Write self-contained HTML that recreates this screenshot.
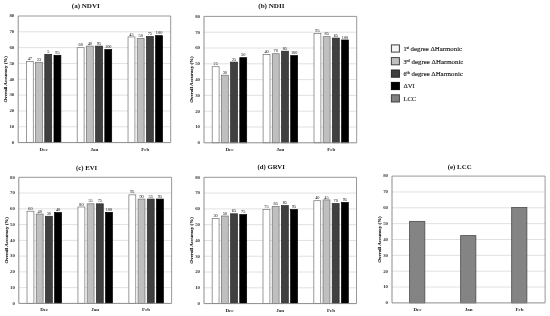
<!DOCTYPE html>
<html><head><meta charset="utf-8"><title>Overall accuracy charts</title>
<style>
html,body{margin:0;padding:0;background:#fff;}
body{width:550px;height:316px;overflow:hidden;}
svg{display:block;}
text{font-family:"Liberation Serif", serif;fill:#1a1a1a;}
.tk{font-size:4.8px;font-weight:bold;text-anchor:end;fill:#333;}
.tt{font-size:6.6px;font-weight:bold;text-anchor:middle;fill:#111;}
.yt{font-size:4.9px;font-weight:bold;text-anchor:middle;fill:#1a1a1a;stroke:#1a1a1a;stroke-width:0.12px;}
.cat{font-size:5.0px;font-weight:bold;text-anchor:middle;fill:#222;}
.vl{font-size:5px;text-anchor:middle;fill:#000;}
.lg{font-size:6.2px;fill:#1a1a1a;stroke:#1a1a1a;stroke-width:0.12px;}
.sup{font-size:3.8px;fill:#1a1a1a;stroke:#1a1a1a;stroke-width:0.15px;}
</style></head>
<body>
<svg width="550" height="316" viewBox="0 0 550 316">
<rect x="0" y="0" width="550" height="316" fill="#fff"/>
<line x1="18.2" y1="126.77" x2="170.7" y2="126.77" stroke="#d9d9d9" stroke-width="0.8"/>
<line x1="18.2" y1="110.95" x2="170.7" y2="110.95" stroke="#d9d9d9" stroke-width="0.8"/>
<line x1="18.2" y1="95.12" x2="170.7" y2="95.12" stroke="#d9d9d9" stroke-width="0.8"/>
<line x1="18.2" y1="79.3" x2="170.7" y2="79.3" stroke="#d9d9d9" stroke-width="0.8"/>
<line x1="18.2" y1="63.47" x2="170.7" y2="63.47" stroke="#d9d9d9" stroke-width="0.8"/>
<line x1="18.2" y1="47.65" x2="170.7" y2="47.65" stroke="#d9d9d9" stroke-width="0.8"/>
<line x1="18.2" y1="31.82" x2="170.7" y2="31.82" stroke="#d9d9d9" stroke-width="0.8"/>
<polyline points="18.2,16 170.7,16 170.7,142.6" fill="none" stroke="#8c8c8c" stroke-width="0.9"/>
<text x="14.2" y="143.9" class="tk">0</text>
<text x="14.2" y="128.07" class="tk">10</text>
<text x="14.2" y="112.25" class="tk">20</text>
<text x="14.2" y="96.42" class="tk">30</text>
<text x="14.2" y="80.6" class="tk">40</text>
<text x="14.2" y="64.77" class="tk">50</text>
<text x="14.2" y="48.95" class="tk">60</text>
<text x="14.2" y="33.12" class="tk">70</text>
<text x="14.2" y="17.3" class="tk">80</text>
<text x="85.8" y="8.2" class="tt" textLength="28.0" lengthAdjust="spacingAndGlyphs">(a) NDVI</text>
<text transform="translate(7.3,79.3) rotate(-90)" x="0" y="0" class="yt" textLength="46.5" lengthAdjust="spacingAndGlyphs">Overall Accuracy (%)</text>
<text x="43.62" y="150.6" class="cat">Dec</text>
<text x="94.45" y="150.6" class="cat">Jan</text>
<text x="145.28" y="150.6" class="cat">Feb</text>
<rect x="26.37" y="61.45" width="6.9" height="81.15" fill="#ffffff" stroke="#707070" stroke-width="0.7"/>
<text x="29.82" y="60.1" class="vl" textLength="4.3" lengthAdjust="spacingAndGlyphs">47</text>
<rect x="35.57" y="62.56" width="6.9" height="80.04" fill="#bfbfbf" stroke="#707070" stroke-width="0.7"/>
<text x="39.02" y="61.21" class="vl" textLength="4.3" lengthAdjust="spacingAndGlyphs">33</text>
<rect x="44.77" y="54.33" width="6.9" height="88.27" fill="#404040" stroke="#262626" stroke-width="0.7"/>
<text x="48.22" y="52.98" class="vl" textLength="2.15" lengthAdjust="spacingAndGlyphs">5</text>
<rect x="53.97" y="55.28" width="6.9" height="87.32" fill="#000000" stroke="#000000" stroke-width="0.7"/>
<text x="57.42" y="53.93" class="vl" textLength="4.3" lengthAdjust="spacingAndGlyphs">95</text>
<rect x="77.2" y="47.68" width="6.9" height="94.92" fill="#ffffff" stroke="#707070" stroke-width="0.7"/>
<text x="80.65" y="46.33" class="vl" textLength="4.3" lengthAdjust="spacingAndGlyphs">60</text>
<rect x="86.4" y="46.1" width="6.9" height="96.5" fill="#bfbfbf" stroke="#707070" stroke-width="0.7"/>
<text x="89.85" y="44.75" class="vl" textLength="4.3" lengthAdjust="spacingAndGlyphs">40</text>
<rect x="95.6" y="46.1" width="6.9" height="96.5" fill="#404040" stroke="#262626" stroke-width="0.7"/>
<text x="99.05" y="44.75" class="vl" textLength="4.3" lengthAdjust="spacingAndGlyphs">95</text>
<rect x="104.8" y="49.58" width="6.9" height="93.02" fill="#000000" stroke="#000000" stroke-width="0.7"/>
<text x="108.25" y="48.23" class="vl" textLength="6.45" lengthAdjust="spacingAndGlyphs">100</text>
<rect x="128.03" y="36.92" width="6.9" height="105.68" fill="#ffffff" stroke="#707070" stroke-width="0.7"/>
<text x="131.48" y="35.57" class="vl" textLength="4.3" lengthAdjust="spacingAndGlyphs">45</text>
<rect x="137.23" y="38.5" width="6.9" height="104.1" fill="#bfbfbf" stroke="#707070" stroke-width="0.7"/>
<text x="140.68" y="37.15" class="vl" textLength="4.3" lengthAdjust="spacingAndGlyphs">50</text>
<rect x="146.43" y="36.45" width="6.9" height="106.15" fill="#404040" stroke="#262626" stroke-width="0.7"/>
<text x="149.88" y="35.1" class="vl" textLength="4.3" lengthAdjust="spacingAndGlyphs">75</text>
<rect x="155.63" y="35.66" width="6.9" height="106.94" fill="#000000" stroke="#000000" stroke-width="0.7"/>
<text x="159.08" y="34.31" class="vl" textLength="6.45" lengthAdjust="spacingAndGlyphs">100</text>
<polyline points="18.2,16 18.2,142.6 170.7,142.6" fill="none" stroke="#8c8c8c" stroke-width="1"/>
<line x1="204" y1="127" x2="356.7" y2="127" stroke="#d9d9d9" stroke-width="0.8"/>
<line x1="204" y1="111.2" x2="356.7" y2="111.2" stroke="#d9d9d9" stroke-width="0.8"/>
<line x1="204" y1="95.4" x2="356.7" y2="95.4" stroke="#d9d9d9" stroke-width="0.8"/>
<line x1="204" y1="79.6" x2="356.7" y2="79.6" stroke="#d9d9d9" stroke-width="0.8"/>
<line x1="204" y1="63.8" x2="356.7" y2="63.8" stroke="#d9d9d9" stroke-width="0.8"/>
<line x1="204" y1="48" x2="356.7" y2="48" stroke="#d9d9d9" stroke-width="0.8"/>
<line x1="204" y1="32.2" x2="356.7" y2="32.2" stroke="#d9d9d9" stroke-width="0.8"/>
<polyline points="204,16.4 356.7,16.4 356.7,142.8" fill="none" stroke="#8c8c8c" stroke-width="0.9"/>
<text x="200" y="144.1" class="tk">0</text>
<text x="200" y="128.3" class="tk">10</text>
<text x="200" y="112.5" class="tk">20</text>
<text x="200" y="96.7" class="tk">30</text>
<text x="200" y="80.9" class="tk">40</text>
<text x="200" y="65.1" class="tk">50</text>
<text x="200" y="49.3" class="tk">60</text>
<text x="200" y="33.5" class="tk">70</text>
<text x="200" y="17.7" class="tk">80</text>
<text x="271.4" y="8.1" class="tt" textLength="26.2" lengthAdjust="spacingAndGlyphs">(b) NDII</text>
<text transform="translate(193.1,79.6) rotate(-90)" x="0" y="0" class="yt" textLength="46.5" lengthAdjust="spacingAndGlyphs">Overall Accuracy (%)</text>
<text x="229.45" y="150.8" class="cat">Dec</text>
<text x="280.35" y="150.8" class="cat">Jan</text>
<text x="331.25" y="150.8" class="cat">Feb</text>
<rect x="212.2" y="66.68" width="6.9" height="76.12" fill="#ffffff" stroke="#707070" stroke-width="0.7"/>
<text x="215.65" y="65.33" class="vl" textLength="4.3" lengthAdjust="spacingAndGlyphs">25</text>
<rect x="221.4" y="75.21" width="6.9" height="67.59" fill="#bfbfbf" stroke="#707070" stroke-width="0.7"/>
<text x="224.85" y="73.86" class="vl" textLength="4.3" lengthAdjust="spacingAndGlyphs">30</text>
<rect x="230.6" y="62.1" width="6.9" height="80.7" fill="#404040" stroke="#262626" stroke-width="0.7"/>
<text x="234.05" y="60.75" class="vl" textLength="4.3" lengthAdjust="spacingAndGlyphs">25</text>
<rect x="239.8" y="57.67" width="6.9" height="85.13" fill="#000000" stroke="#000000" stroke-width="0.7"/>
<text x="243.25" y="56.32" class="vl" textLength="4.3" lengthAdjust="spacingAndGlyphs">50</text>
<rect x="263.1" y="54.35" width="6.9" height="88.45" fill="#ffffff" stroke="#707070" stroke-width="0.7"/>
<text x="266.55" y="53" class="vl" textLength="4.3" lengthAdjust="spacingAndGlyphs">40</text>
<rect x="272.3" y="53.72" width="6.9" height="89.08" fill="#bfbfbf" stroke="#707070" stroke-width="0.7"/>
<text x="275.75" y="52.37" class="vl" textLength="4.3" lengthAdjust="spacingAndGlyphs">70</text>
<rect x="281.5" y="51.19" width="6.9" height="91.61" fill="#404040" stroke="#262626" stroke-width="0.7"/>
<text x="284.95" y="49.84" class="vl" textLength="4.3" lengthAdjust="spacingAndGlyphs">85</text>
<rect x="290.7" y="55.62" width="6.9" height="87.18" fill="#000000" stroke="#000000" stroke-width="0.7"/>
<text x="294.15" y="54.27" class="vl" textLength="6.45" lengthAdjust="spacingAndGlyphs">100</text>
<rect x="314" y="33.5" width="6.9" height="109.3" fill="#ffffff" stroke="#707070" stroke-width="0.7"/>
<text x="317.45" y="32.15" class="vl" textLength="4.3" lengthAdjust="spacingAndGlyphs">95</text>
<rect x="323.2" y="36.66" width="6.9" height="106.14" fill="#bfbfbf" stroke="#707070" stroke-width="0.7"/>
<text x="326.65" y="35.31" class="vl" textLength="4.3" lengthAdjust="spacingAndGlyphs">85</text>
<rect x="332.4" y="38.08" width="6.9" height="104.72" fill="#404040" stroke="#262626" stroke-width="0.7"/>
<text x="335.85" y="36.73" class="vl" textLength="4.3" lengthAdjust="spacingAndGlyphs">65</text>
<rect x="341.6" y="39.98" width="6.9" height="102.82" fill="#000000" stroke="#000000" stroke-width="0.7"/>
<text x="345.05" y="38.63" class="vl" textLength="6.45" lengthAdjust="spacingAndGlyphs">100</text>
<polyline points="204,16.4 204,142.8 356.7,142.8" fill="none" stroke="#8c8c8c" stroke-width="1"/>
<line x1="18.8" y1="287.64" x2="171.6" y2="287.64" stroke="#d9d9d9" stroke-width="0.8"/>
<line x1="18.8" y1="271.88" x2="171.6" y2="271.88" stroke="#d9d9d9" stroke-width="0.8"/>
<line x1="18.8" y1="256.11" x2="171.6" y2="256.11" stroke="#d9d9d9" stroke-width="0.8"/>
<line x1="18.8" y1="240.35" x2="171.6" y2="240.35" stroke="#d9d9d9" stroke-width="0.8"/>
<line x1="18.8" y1="224.59" x2="171.6" y2="224.59" stroke="#d9d9d9" stroke-width="0.8"/>
<line x1="18.8" y1="208.82" x2="171.6" y2="208.82" stroke="#d9d9d9" stroke-width="0.8"/>
<line x1="18.8" y1="193.06" x2="171.6" y2="193.06" stroke="#d9d9d9" stroke-width="0.8"/>
<polyline points="18.8,177.3 171.6,177.3 171.6,303.4" fill="none" stroke="#8c8c8c" stroke-width="0.9"/>
<text x="14.8" y="304.7" class="tk">0</text>
<text x="14.8" y="288.94" class="tk">10</text>
<text x="14.8" y="273.18" class="tk">20</text>
<text x="14.8" y="257.41" class="tk">30</text>
<text x="14.8" y="241.65" class="tk">40</text>
<text x="14.8" y="225.89" class="tk">50</text>
<text x="14.8" y="210.12" class="tk">60</text>
<text x="14.8" y="194.36" class="tk">70</text>
<text x="14.8" y="178.6" class="tk">80</text>
<text x="86.6" y="169.8" class="tt" textLength="21.0" lengthAdjust="spacingAndGlyphs">(c) EVI</text>
<text transform="translate(7.9,240.35) rotate(-90)" x="0" y="0" class="yt" textLength="46.5" lengthAdjust="spacingAndGlyphs">Overall Accuracy (%)</text>
<text x="44.27" y="311.4" class="cat">Dec</text>
<text x="95.2" y="311.4" class="cat">Jan</text>
<text x="146.13" y="311.4" class="cat">Feb</text>
<rect x="27.02" y="211.22" width="6.9" height="92.18" fill="#ffffff" stroke="#707070" stroke-width="0.7"/>
<text x="30.47" y="209.87" class="vl" textLength="4.3" lengthAdjust="spacingAndGlyphs">60</text>
<rect x="36.22" y="214.06" width="6.9" height="89.34" fill="#bfbfbf" stroke="#707070" stroke-width="0.7"/>
<text x="39.67" y="212.71" class="vl" textLength="4.3" lengthAdjust="spacingAndGlyphs">40</text>
<rect x="45.42" y="216.27" width="6.9" height="87.13" fill="#404040" stroke="#262626" stroke-width="0.7"/>
<text x="48.87" y="214.92" class="vl" textLength="4.3" lengthAdjust="spacingAndGlyphs">30</text>
<rect x="54.62" y="212.49" width="6.9" height="90.91" fill="#000000" stroke="#000000" stroke-width="0.7"/>
<text x="58.07" y="211.14" class="vl" textLength="4.3" lengthAdjust="spacingAndGlyphs">40</text>
<rect x="77.95" y="206.97" width="6.9" height="96.43" fill="#ffffff" stroke="#707070" stroke-width="0.7"/>
<text x="81.4" y="205.62" class="vl" textLength="4.3" lengthAdjust="spacingAndGlyphs">80</text>
<rect x="87.15" y="203.82" width="6.9" height="99.58" fill="#bfbfbf" stroke="#707070" stroke-width="0.7"/>
<text x="90.6" y="202.47" class="vl" textLength="4.3" lengthAdjust="spacingAndGlyphs">55</text>
<rect x="96.35" y="203.82" width="6.9" height="99.58" fill="#404040" stroke="#262626" stroke-width="0.7"/>
<text x="99.8" y="202.47" class="vl" textLength="4.3" lengthAdjust="spacingAndGlyphs">75</text>
<rect x="105.55" y="212.33" width="6.9" height="91.07" fill="#000000" stroke="#000000" stroke-width="0.7"/>
<text x="109" y="210.98" class="vl" textLength="6.45" lengthAdjust="spacingAndGlyphs">100</text>
<rect x="128.88" y="194.83" width="6.9" height="108.57" fill="#ffffff" stroke="#707070" stroke-width="0.7"/>
<text x="132.33" y="193.48" class="vl" textLength="4.3" lengthAdjust="spacingAndGlyphs">95</text>
<rect x="138.08" y="199.09" width="6.9" height="104.31" fill="#bfbfbf" stroke="#707070" stroke-width="0.7"/>
<text x="141.53" y="197.74" class="vl" textLength="4.3" lengthAdjust="spacingAndGlyphs">90</text>
<rect x="147.28" y="199.09" width="6.9" height="104.31" fill="#404040" stroke="#262626" stroke-width="0.7"/>
<text x="150.73" y="197.74" class="vl" textLength="4.3" lengthAdjust="spacingAndGlyphs">35</text>
<rect x="156.48" y="199.09" width="6.9" height="104.31" fill="#000000" stroke="#000000" stroke-width="0.7"/>
<text x="159.93" y="197.74" class="vl" textLength="4.3" lengthAdjust="spacingAndGlyphs">95</text>
<polyline points="18.8,177.3 18.8,303.4 171.6,303.4" fill="none" stroke="#8c8c8c" stroke-width="1"/>
<line x1="204" y1="287.81" x2="356.5" y2="287.81" stroke="#d9d9d9" stroke-width="0.8"/>
<line x1="204" y1="272.03" x2="356.5" y2="272.03" stroke="#d9d9d9" stroke-width="0.8"/>
<line x1="204" y1="256.24" x2="356.5" y2="256.24" stroke="#d9d9d9" stroke-width="0.8"/>
<line x1="204" y1="240.45" x2="356.5" y2="240.45" stroke="#d9d9d9" stroke-width="0.8"/>
<line x1="204" y1="224.66" x2="356.5" y2="224.66" stroke="#d9d9d9" stroke-width="0.8"/>
<line x1="204" y1="208.88" x2="356.5" y2="208.88" stroke="#d9d9d9" stroke-width="0.8"/>
<line x1="204" y1="193.09" x2="356.5" y2="193.09" stroke="#d9d9d9" stroke-width="0.8"/>
<polyline points="204,177.3 356.5,177.3 356.5,303.6" fill="none" stroke="#8c8c8c" stroke-width="0.9"/>
<text x="200" y="304.9" class="tk">0</text>
<text x="200" y="289.11" class="tk">10</text>
<text x="200" y="273.33" class="tk">20</text>
<text x="200" y="257.54" class="tk">30</text>
<text x="200" y="241.75" class="tk">40</text>
<text x="200" y="225.96" class="tk">50</text>
<text x="200" y="210.18" class="tk">60</text>
<text x="200" y="194.39" class="tk">70</text>
<text x="200" y="178.6" class="tk">80</text>
<text x="271.2" y="168.9" class="tt" textLength="27.2" lengthAdjust="spacingAndGlyphs">(d) GRVI</text>
<text transform="translate(193.1,240.45) rotate(-90)" x="0" y="0" class="yt" textLength="46.5" lengthAdjust="spacingAndGlyphs">Overall Accuracy (%)</text>
<text x="229.42" y="311.6" class="cat">Dec</text>
<text x="280.25" y="311.6" class="cat">Jan</text>
<text x="331.08" y="311.6" class="cat">Feb</text>
<rect x="212.17" y="218.38" width="6.9" height="85.22" fill="#ffffff" stroke="#707070" stroke-width="0.7"/>
<text x="215.62" y="217.03" class="vl" textLength="4.3" lengthAdjust="spacingAndGlyphs">30</text>
<rect x="221.37" y="216.01" width="6.9" height="87.59" fill="#bfbfbf" stroke="#707070" stroke-width="0.7"/>
<text x="224.82" y="214.66" class="vl" textLength="4.3" lengthAdjust="spacingAndGlyphs">50</text>
<rect x="230.57" y="213.8" width="6.9" height="89.8" fill="#404040" stroke="#262626" stroke-width="0.7"/>
<text x="234.02" y="212.45" class="vl" textLength="4.3" lengthAdjust="spacingAndGlyphs">65</text>
<rect x="239.77" y="214.59" width="6.9" height="89.01" fill="#000000" stroke="#000000" stroke-width="0.7"/>
<text x="243.22" y="213.24" class="vl" textLength="4.3" lengthAdjust="spacingAndGlyphs">75</text>
<rect x="263" y="209.38" width="6.9" height="94.22" fill="#ffffff" stroke="#707070" stroke-width="0.7"/>
<text x="266.45" y="208.03" class="vl" textLength="4.3" lengthAdjust="spacingAndGlyphs">75</text>
<rect x="272.2" y="206.38" width="6.9" height="97.22" fill="#bfbfbf" stroke="#707070" stroke-width="0.7"/>
<text x="275.65" y="205.03" class="vl" textLength="4.3" lengthAdjust="spacingAndGlyphs">85</text>
<rect x="281.4" y="205.59" width="6.9" height="98.01" fill="#404040" stroke="#262626" stroke-width="0.7"/>
<text x="284.85" y="204.24" class="vl" textLength="4.3" lengthAdjust="spacingAndGlyphs">85</text>
<rect x="290.6" y="209.54" width="6.9" height="94.06" fill="#000000" stroke="#000000" stroke-width="0.7"/>
<text x="294.05" y="208.19" class="vl" textLength="4.3" lengthAdjust="spacingAndGlyphs">95</text>
<rect x="313.83" y="200.7" width="6.9" height="102.9" fill="#ffffff" stroke="#707070" stroke-width="0.7"/>
<text x="317.28" y="199.35" class="vl" textLength="4.3" lengthAdjust="spacingAndGlyphs">40</text>
<rect x="323.03" y="199.91" width="6.9" height="103.69" fill="#bfbfbf" stroke="#707070" stroke-width="0.7"/>
<text x="326.48" y="198.56" class="vl" textLength="4.3" lengthAdjust="spacingAndGlyphs">45</text>
<rect x="332.23" y="203.54" width="6.9" height="100.06" fill="#404040" stroke="#262626" stroke-width="0.7"/>
<text x="335.68" y="202.19" class="vl" textLength="4.3" lengthAdjust="spacingAndGlyphs">70</text>
<rect x="341.43" y="202.44" width="6.9" height="101.16" fill="#000000" stroke="#000000" stroke-width="0.7"/>
<text x="344.88" y="201.09" class="vl" textLength="4.3" lengthAdjust="spacingAndGlyphs">95</text>
<polyline points="204,177.3 204,303.6 356.5,303.6" fill="none" stroke="#8c8c8c" stroke-width="1"/>
<line x1="392" y1="287.05" x2="545.1" y2="287.05" stroke="#d9d9d9" stroke-width="0.8"/>
<line x1="392" y1="271.2" x2="545.1" y2="271.2" stroke="#d9d9d9" stroke-width="0.8"/>
<line x1="392" y1="255.35" x2="545.1" y2="255.35" stroke="#d9d9d9" stroke-width="0.8"/>
<line x1="392" y1="239.5" x2="545.1" y2="239.5" stroke="#d9d9d9" stroke-width="0.8"/>
<line x1="392" y1="223.65" x2="545.1" y2="223.65" stroke="#d9d9d9" stroke-width="0.8"/>
<line x1="392" y1="207.8" x2="545.1" y2="207.8" stroke="#d9d9d9" stroke-width="0.8"/>
<line x1="392" y1="191.95" x2="545.1" y2="191.95" stroke="#d9d9d9" stroke-width="0.8"/>
<polyline points="392,176.1 545.1,176.1 545.1,302.9" fill="none" stroke="#8c8c8c" stroke-width="0.9"/>
<text x="388" y="304.2" class="tk">0</text>
<text x="388" y="288.35" class="tk">10</text>
<text x="388" y="272.5" class="tk">20</text>
<text x="388" y="256.65" class="tk">30</text>
<text x="388" y="240.8" class="tk">40</text>
<text x="388" y="224.95" class="tk">50</text>
<text x="388" y="209.1" class="tk">60</text>
<text x="388" y="193.25" class="tk">70</text>
<text x="388" y="177.4" class="tk">80</text>
<text x="459.7" y="168.9" class="tt" textLength="23.8" lengthAdjust="spacingAndGlyphs">(e) LCC</text>
<text transform="translate(381.1,239.5) rotate(-90)" x="0" y="0" class="yt" textLength="46.5" lengthAdjust="spacingAndGlyphs">Overall Accuracy (%)</text>
<text x="417.52" y="310.9" class="cat">Dec</text>
<text x="468.55" y="310.9" class="cat">Jan</text>
<text x="519.58" y="310.9" class="cat">Feb</text>
<rect x="409.62" y="221.36" width="15.2" height="81.54" fill="#848484" stroke="#4a4a4a" stroke-width="0.8"/>
<rect x="460.65" y="235.62" width="15.2" height="67.28" fill="#848484" stroke="#4a4a4a" stroke-width="0.8"/>
<rect x="511.68" y="207.57" width="15.2" height="95.33" fill="#848484" stroke="#4a4a4a" stroke-width="0.8"/>
<polyline points="392,176.1 392,302.9 545.1,302.9" fill="none" stroke="#8c8c8c" stroke-width="1"/>
<rect x="391.4" y="44.9" width="8" height="7.2" fill="#f4f4f4" stroke="#404040" stroke-width="1"/>
<text x="403.4" y="50.6" class="lg">1</text>
<text x="406.4" y="48.6" class="sup">st</text>
<text x="410.6" y="50.6" class="lg" textLength="51.5" lengthAdjust="spacingAndGlyphs">degree ΔHarmonic</text>
<rect x="391.4" y="57.6" width="8" height="7.2" fill="#c0c0c0" stroke="#404040" stroke-width="1"/>
<text x="403.4" y="63.8" class="lg">3</text>
<text x="406.4" y="61.8" class="sup">rd</text>
<text x="411.6" y="63.8" class="lg" textLength="51.8" lengthAdjust="spacingAndGlyphs">degree ΔHarmonic</text>
<rect x="391.4" y="70" width="8" height="7.2" fill="#404040" stroke="#262626" stroke-width="1"/>
<text x="403.4" y="76.2" class="lg">6</text>
<text x="406.6" y="74.2" class="sup">th</text>
<text x="411.6" y="76.2" class="lg" textLength="51.2" lengthAdjust="spacingAndGlyphs">degree ΔHarmonic</text>
<rect x="391.4" y="82.4" width="8" height="7.2" fill="#000000" stroke="#000000" stroke-width="1"/>
<text x="403.4" y="88.4" class="lg" textLength="11.4" lengthAdjust="spacingAndGlyphs">ΔVI</text>
<rect x="391.4" y="94.8" width="8" height="7.2" fill="#808080" stroke="#404040" stroke-width="1"/>
<text x="403.4" y="100.6" class="lg" textLength="12.9" lengthAdjust="spacingAndGlyphs">LCC</text>
</svg>
</body></html>
